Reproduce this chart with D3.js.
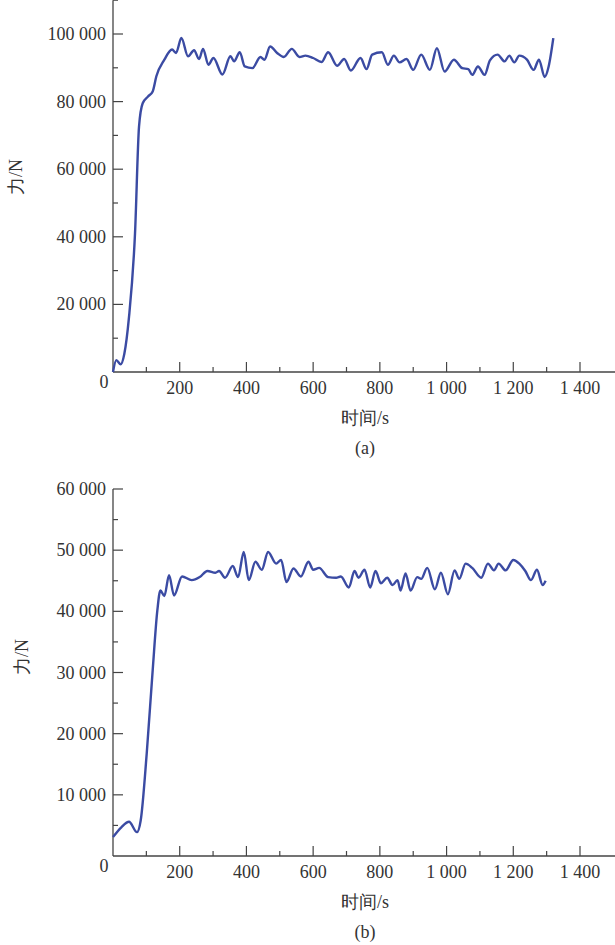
<!DOCTYPE html>
<html><head><meta charset="utf-8">
<script src="https://cdn.jsdelivr.net/npm/d3@7"></script>
<style>body{margin:0;background:#fff}text{font-family:"Liberation Serif","Times New Roman",serif;fill:#333}</style>
</head><body>
<svg id="c" width="615" height="945"></svg>
<script>
const timeA=[0,10,23,34,48,66,78,89,105,119,130,154,177,189,205,225,243,258,270,286,301,328,352,363,380,395,418,442,454,471,492,512,536,559,577,600,625,645,672,693,713,742,760,777,806,824,842,859,880,900,924,950,971,994,1022,1047,1065,1077,1094,1114,1130,1153,1174,1188,1203,1218,1241,1261,1277,1294,1306,1320];
const forceA=[0,3500,2300,5400,16300,41000,72600,79500,81500,83000,87500,92400,95400,94400,98800,93400,95200,92600,95600,90900,92900,88000,93400,91900,94600,90400,89900,93200,92400,96300,94400,93200,95600,93200,93600,92900,91700,94600,90600,92600,89200,92900,89600,93900,94600,90900,93600,91600,92600,89400,93900,89400,95800,88900,92400,89900,89600,87900,90400,87900,92200,93900,91900,93600,91600,93600,92400,89400,92400,87300,90400,98800];
const timeB=[0,25,48,72,83,101,119,133,142,154,168,183,207,236,260,283,307,318,336,359,375,392,407,427,446,465,489,504,520,541,563,586,600,618,645,669,683,707,724,736,754,771,787,803,822,838,853,862,877,892,912,924,942,965,983,1004,1024,1038,1057,1077,1104,1124,1142,1156,1177,1200,1218,1236,1253,1271,1288,1297];
const forceB=[3100,4700,5600,3900,5800,16700,30400,40200,43400,42500,45900,42600,45700,45100,45600,46600,46300,46600,45500,47400,45600,49700,45100,48100,46800,49700,47800,48400,44800,47000,45700,48100,46800,47100,45600,45500,45700,43900,46600,45500,46800,43900,46600,44600,45500,44300,45100,43400,46200,43400,45600,45300,47100,43600,46300,42800,46700,45300,47800,47100,45500,47800,46700,47800,46700,48400,47800,46600,45100,46800,44300,45000];
const xTicks=[200,400,600,800,1000,1200,1400];
const xLabels=["200","400","600","800","1 000","1 200","1 400"];
const yTicksA=[20000,40000,60000,80000,100000];
const yLabelsA=["20 000","40 000","60 000","80 000","100 000"];
const yTicksB=[10000,20000,30000,40000,50000,60000];
const yLabelsB=["10 000","20 000","30 000","40 000","50 000","60 000"];

const svg=d3.select("#c");
const axisColor="#444";
function panel(cfg){
  const g=svg.append("g");
  const x=d3.scaleLinear().domain([0,1400]).range([113,580]);
  const y=d3.scaleLinear().domain([0,cfg.ymax]).range([cfg.y0,cfg.ytop]);
  // axes lines
  g.append("line").attr("x1",113).attr("x2",615).attr("y1",cfg.y0).attr("y2",cfg.y0).attr("stroke",axisColor).attr("stroke-width",1.3);
  g.append("line").attr("x1",113).attr("x2",113).attr("y1",cfg.y0).attr("y2",y(cfg.axisTop)).attr("stroke",axisColor).attr("stroke-width",1.3);
  // x ticks
  d3.range(100,1500,100).forEach(v=>{
    const major=v%200===0;
    g.append("line").attr("x1",x(v)).attr("x2",x(v)).attr("y1",cfg.y0).attr("y2",cfg.y0-(major?10:5)).attr("stroke",axisColor).attr("stroke-width",1.2);
  });
  xTicks.forEach((v,i)=>g.append("text").attr("x",x(v)).attr("y",cfg.y0+22).attr("text-anchor","middle").attr("font-size",18).text(xLabels[i]));
  // y ticks
  d3.range(cfg.minor,cfg.axisTop+1,cfg.minor).forEach(v=>{
    const major=cfg.yTicks.includes(v);
    g.append("line").attr("x1",113).attr("x2",113+(major?10:5)).attr("y1",y(v)).attr("y2",y(v)).attr("stroke",axisColor).attr("stroke-width",1.2);
  });
  cfg.yTicks.forEach((v,i)=>g.append("text").attr("x",106).attr("y",y(v)+6).attr("text-anchor","end").attr("font-size",18).text(cfg.yLabels[i]));
  g.append("text").attr("x",104).attr("y",cfg.y0+16).attr("text-anchor","middle").attr("font-size",18).text("0");
  g.append("text").attr("x",365).attr("y",cfg.y0+52).attr("text-anchor","middle").attr("font-size",18).text("时间/s");
  g.append("text").attr("x",365).attr("y",cfg.y0+82).attr("text-anchor","middle").attr("font-size",18).text(cfg.tag);
  g.append("text").attr("transform",`translate(${cfg.tx},${cfg.ty}) rotate(-90)`).attr("text-anchor","middle").attr("font-size",18).text("力/N");
  const line=d3.line().x((d,i)=>x(cfg.t[i])).y(d=>y(d)).curve(d3.curveMonotoneX);
  g.append("path").attr("d",line(cfg.f)).attr("fill","none").attr("stroke","#3b4ba3").attr("stroke-width",2.4);
}
panel({y0:372,ytop:34,ymax:100000,axisTop:110000,minor:10000,yTicks:yTicksA,yLabels:yLabelsA,t:timeA,f:forceA,tag:"(a)",tx:22,ty:177});
panel({y0:856,ytop:489,ymax:60000,axisTop:60000,minor:5000,yTicks:yTicksB,yLabels:yLabelsB,t:timeB,f:forceB,tag:"(b)",tx:28,ty:657});
</script></body></html>
